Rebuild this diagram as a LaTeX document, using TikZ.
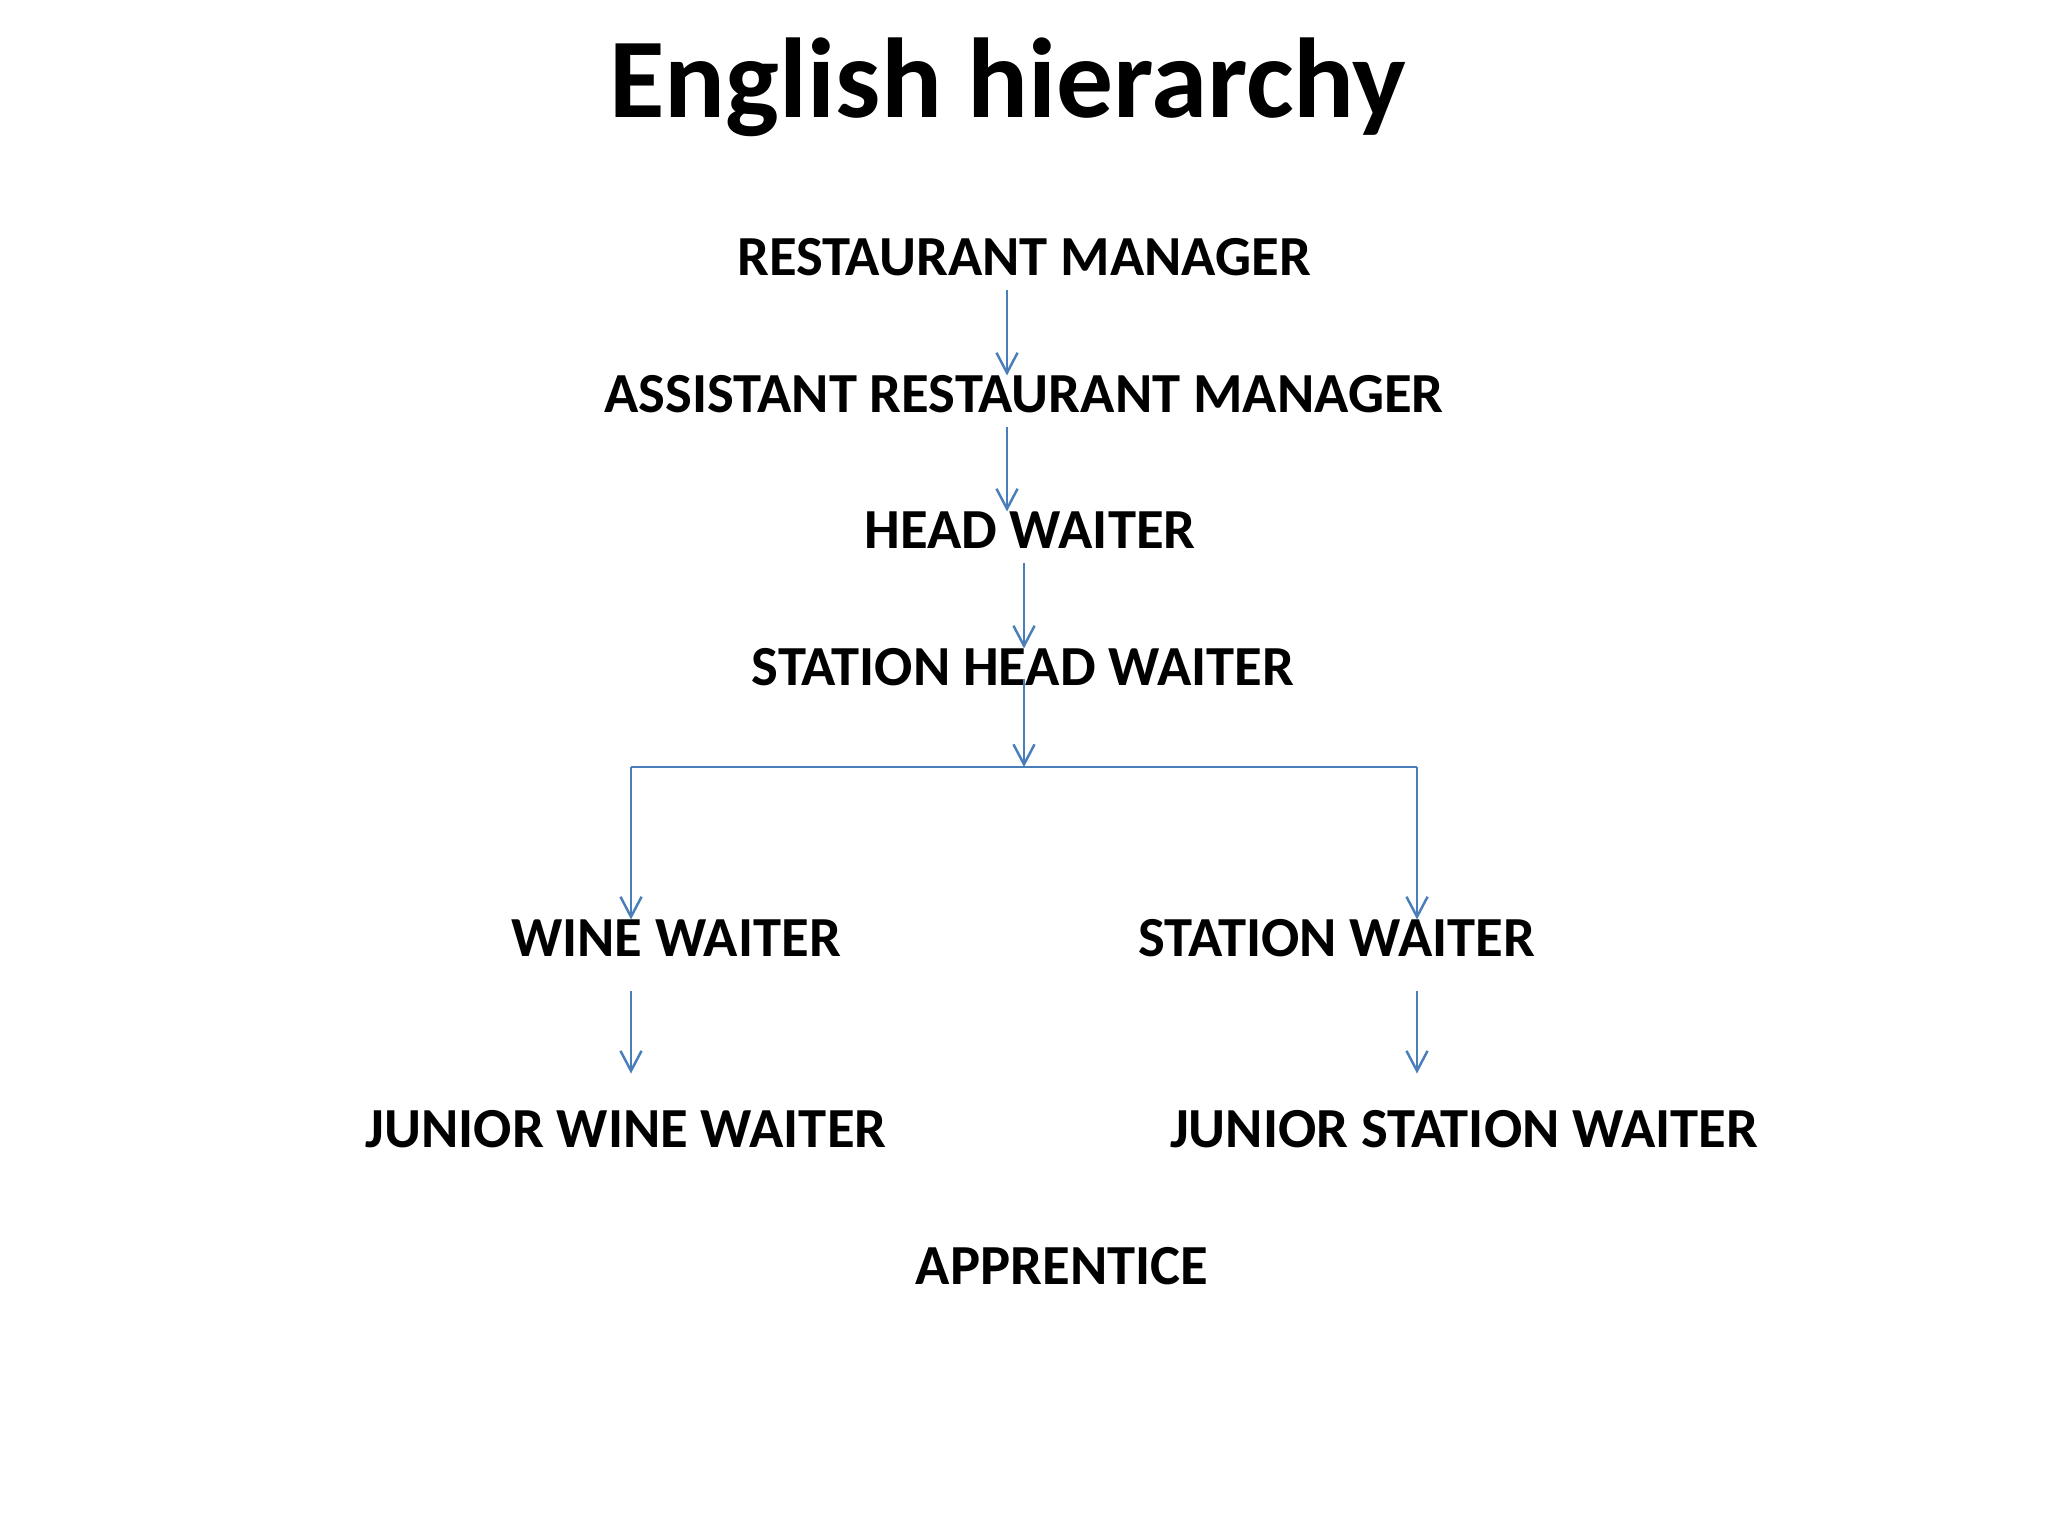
\documentclass[tikz,border=0pt]{standalone}
\usepackage{fontspec}
\setmainfont{Carlito}
\usetikzlibrary{arrows.meta}
\definecolor{linkblue}{RGB}{74,126,187}
\tikzstyle{staff}=[anchor=base, inner sep=0pt, text height=10.2pt, text depth=0pt, font=\fontsize{16.1}{19}\selectfont\bfseries]
\tikzstyle{wire}=[draw=linkblue, line width=0.7pt]
\tikzstyle{link}=[wire, -{Straight Barb[length=5.7pt,width=6pt]}]
\newcommand{\staff}{\node[staff]}

\begin{document}
\begin{tikzpicture}[x=0.01cm,y=-0.01cm]
            \useasboundingbox (0,0) rectangle (2048,1536);
            \node[anchor=base, inner sep=0pt, font=\fontsize{32.3}{38}\selectfont\bfseries] (title) at (1008,117){English hierarchy};
            \staff (rm) at (1024,275){RESTAURANT MANAGER};
            \staff (arm) at (1024,412){ASSISTANT RESTAURANT MANAGER};
            \staff (hw) at (1030,548){HEAD WAITER};
            \staff (shw) at (1023,685){STATION HEAD WAITER};
            \staff (ww) at (676,956){WINE WAITER};
            \staff (sw) at (1337,956){STATION WAITER};
            \staff (jww) at (626,1147){JUNIOR WINE WAITER};
            \staff (jsw) at (1464,1147){JUNIOR STATION WAITER};
            \staff (app) at (1062,1284){APPRENTICE};
            \coordinate (up) at (1007,0);
            \coordinate (mid) at (1024,767);
            \coordinate (left) at (631,767);
            \coordinate (right) at (1417,767);
            \draw[wire] (left) -- (right);
            \path
                (rm.south -| up) edge[link, shorten <=4pt] (arm.north -| up)
                (arm.south -| up) edge[link, shorten <=4pt] (hw.north -| up)
                (hw.south -| mid) edge[link, shorten <=4pt] (shw.north -| mid)
                (shw.south -| mid) edge[link, shorten <=-2pt] (mid)
                (left) edge[link] (ww.north -| left)
                (right) edge[link] (sw.north -| right)
                (ww.south -| left) edge[link, shorten <=9.7pt, shorten >=10.5pt] (jww.north -| left)
                (sw.south -| right) edge[link, shorten <=9.7pt, shorten >=10.5pt] (jsw.north -| right)
            ;
        \end{tikzpicture}
\end{document}
